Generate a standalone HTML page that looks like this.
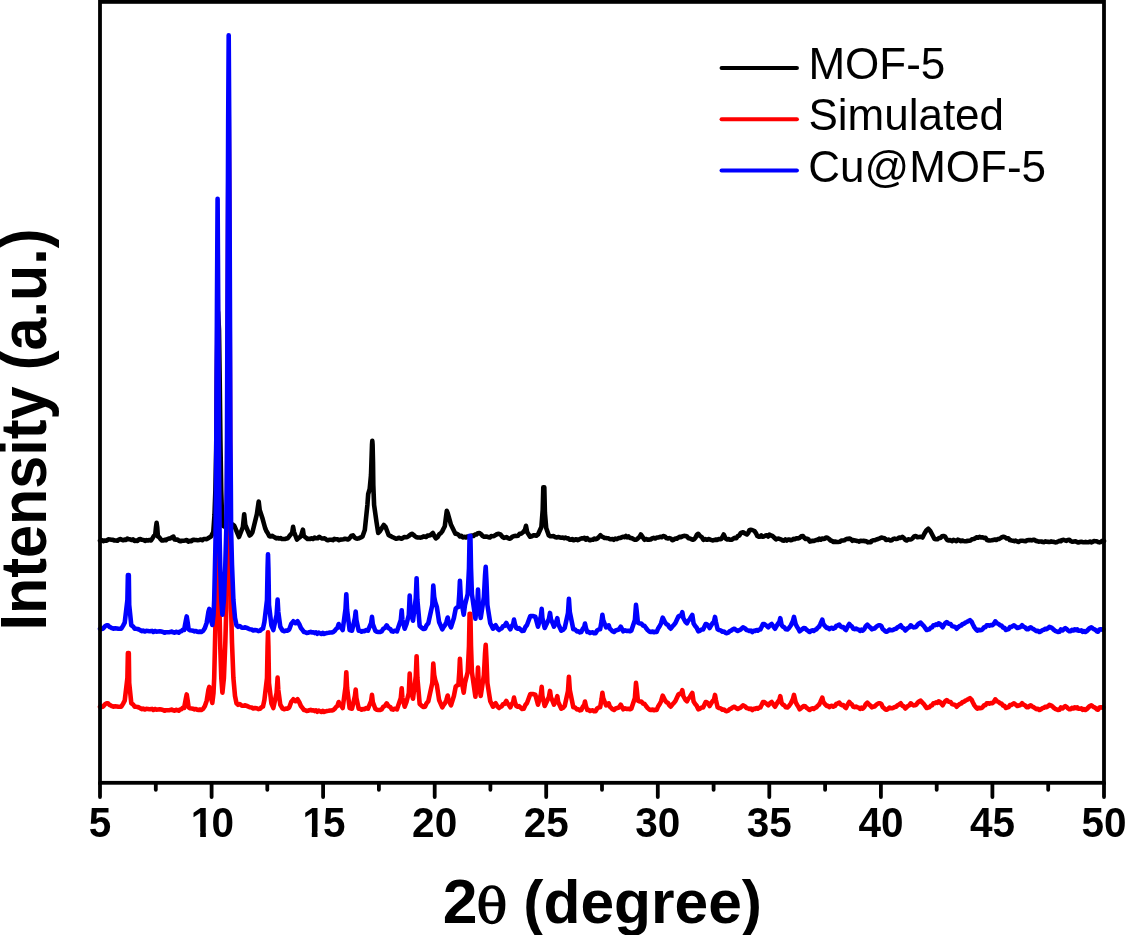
<!DOCTYPE html>
<html><head><meta charset="utf-8"><title>XRD</title>
<style>html,body{margin:0;padding:0;background:#fff;}svg{display:block;}</style>
</head><body>
<svg width="1125" height="935" viewBox="0 0 1125 935">
<rect width="1125" height="935" fill="#fff"/>
<g fill="none" stroke-width="4.6" stroke-linejoin="round" stroke-linecap="round">
<polyline stroke="#000000" points="100.0,540.8 101.7,540.0 103.3,541.2 105.0,540.5 106.7,540.6 108.3,539.4 110.0,539.5 111.5,539.7 113.0,539.9 114.5,540.5 116.0,540.5 117.5,540.8 119.0,539.4 120.5,539.1 122.0,539.8 123.3,540.3 124.7,539.5 126.0,540.0 127.3,538.6 128.7,539.3 130.0,539.3 131.5,540.0 133.0,539.4 134.5,541.0 136.0,540.5 137.5,541.0 139.0,539.3 140.5,539.1 142.0,539.8 143.5,540.0 145.0,540.9 146.5,540.1 148.0,540.5 149.5,540.0 151.0,540.5 152.4,538.5 153.8,536.0 155.2,535.0 156.0,527.0 156.6,522.9 157.2,527.0 157.9,536.5 159.3,537.3 160.6,539.1 162.0,540.5 163.3,540.4 164.7,539.8 166.0,540.2 167.3,539.1 168.7,538.6 170.0,538.5 171.7,537.5 173.4,536.6 174.6,539.5 176.1,539.6 177.5,539.5 179.0,540.8 180.5,541.3 182.0,540.8 183.5,540.8 185.0,540.5 186.7,540.0 188.3,541.6 190.0,540.8 191.5,541.2 193.0,539.7 194.5,539.9 196.0,540.0 197.7,540.2 199.3,540.0 201.0,539.5 202.3,540.1 203.7,539.0 205.0,539.0 206.8,539.1 208.5,538.0 211.0,536.5 213.3,532.0 214.5,515.0 215.4,490.0 216.2,450.0 216.8,390.0 217.4,335.0 218.0,312.0 219.0,330.0 219.7,380.0 220.4,440.0 221.2,490.0 222.0,515.0 222.8,525.5 224.4,526.6 226.0,527.0 227.3,526.6 228.7,527.2 230.0,527.0 232.5,524.5 234.2,525.7 236.5,531.0 239.0,537.0 242.9,527.0 244.2,514.3 245.3,525.0 249.7,535.5 251.1,534.4 252.5,532.0 256.9,514.0 258.7,501.5 259.7,510.0 262.6,518.8 265.1,528.0 266.5,531.3 267.8,533.3 269.2,536.0 270.6,536.5 272.1,535.9 273.6,536.7 275.0,537.5 276.3,538.4 277.7,538.0 279.0,538.5 280.5,538.1 281.9,538.9 283.4,539.0 284.9,539.0 286.5,538.6 288.0,538.0 289.4,536.1 290.7,534.6 292.1,533.0 293.1,526.8 294.0,532.0 296.9,539.5 298.3,538.2 299.8,537.3 301.2,535.5 302.9,529.6 303.8,536.0 305.7,537.5 307.5,539.0 308.9,538.8 310.2,539.0 311.6,538.2 313.0,539.0 314.6,537.6 316.1,538.3 317.7,538.2 319.3,536.8 320.6,537.8 322.0,538.5 323.3,538.5 324.6,538.3 325.9,539.2 327.2,540.2 328.5,540.1 329.8,539.8 331.4,539.7 332.9,540.1 334.4,538.9 336.0,539.2 337.5,539.3 339.0,540.2 340.5,539.6 342.0,539.5 343.5,539.2 345.0,538.7 346.4,539.0 347.9,539.5 349.4,538.5 351.2,536.0 353.0,535.3 354.5,537.4 356.0,538.5 357.6,538.6 359.2,538.2 360.9,537.4 362.5,536.5 364.8,530.0 367.4,505.0 368.2,494.0 369.7,489.0 371.0,475.0 371.5,460.0 372.0,445.0 372.3,440.8 372.6,445.0 373.0,462.0 373.3,485.0 374.1,505.0 376.5,522.0 378.2,533.0 380.0,531.1 381.9,528.0 383.8,524.9 385.6,527.0 388.6,535.0 390.2,535.9 391.9,536.8 393.5,537.5 396.0,538.8 397.3,538.5 398.7,537.7 400.0,538.3 401.5,538.7 403.0,537.9 404.4,537.0 405.9,537.3 407.4,537.0 408.9,535.9 410.5,534.6 412.0,533.8 413.3,534.6 414.7,536.0 416.0,537.0 417.7,537.5 419.4,537.5 420.7,537.6 422.0,537.2 423.4,536.4 424.7,536.6 426.0,537.0 427.4,535.6 428.8,535.6 430.1,535.2 431.5,534.3 432.9,533.0 434.4,536.2 435.9,538.3 437.6,537.1 439.2,534.3 440.9,533.0 442.2,531.4 443.5,528.8 444.8,526.3 446.1,516.0 446.8,510.8 447.7,513.0 449.1,518.0 451.0,524.8 455.4,533.8 456.9,533.9 458.5,534.7 460.0,536.5 461.4,535.9 462.9,537.5 464.4,536.8 465.8,537.5 467.3,536.5 468.8,537.1 470.4,536.3 471.9,535.5 473.4,536.0 474.9,534.6 476.4,534.5 477.8,533.2 479.3,533.0 481.0,534.1 482.6,536.0 484.0,536.7 485.5,536.5 486.9,536.6 488.4,537.2 489.8,537.5 491.2,536.1 492.6,536.3 494.0,536.0 495.6,535.1 497.2,534.0 498.8,533.8 500.7,534.7 502.6,537.0 504.0,537.9 505.3,537.5 506.6,537.1 508.0,538.1 509.4,538.7 510.7,538.3 512.1,536.9 513.5,536.3 515.0,535.9 516.4,536.0 518.0,535.7 519.5,533.9 521.1,533.8 523.0,532.3 524.9,530.0 526.0,525.8 527.1,532.0 528.7,534.7 530.2,536.8 531.7,536.4 533.2,535.3 534.7,535.3 536.4,535.8 538.0,534.5 541.4,527.0 542.7,510.0 543.3,487.3 543.8,487.3 544.3,487.3 544.9,512.8 546.2,528.0 548.7,535.3 550.3,536.3 551.9,536.2 553.4,536.1 555.0,537.0 556.7,537.4 558.3,537.1 560.0,537.5 561.4,537.8 562.8,537.6 564.2,538.3 565.6,537.5 567.0,538.5 568.3,538.4 569.6,539.8 571.0,539.8 572.3,539.0 573.6,540.2 574.9,539.8 576.2,539.2 577.6,540.2 579.0,539.6 580.3,538.8 581.6,538.3 583.0,538.5 584.4,537.8 585.8,539.6 587.2,538.2 588.7,539.8 590.1,540.3 591.5,539.7 592.9,539.8 594.3,538.6 595.6,539.3 597.0,538.9 598.4,537.5 600.4,535.3 601.8,536.6 603.2,537.1 604.6,538.0 605.9,538.0 607.2,538.2 608.5,538.2 609.9,539.3 611.2,539.2 612.5,539.0 613.8,539.8 615.3,538.6 616.9,539.2 618.5,538.1 620.0,538.0 621.5,537.5 622.9,536.7 624.3,537.2 625.8,536.0 627.2,537.4 628.6,536.5 630.0,538.0 631.6,538.1 633.2,538.9 634.8,539.8 636.3,539.7 637.9,538.4 639.4,537.0 640.8,534.5 642.6,536.9 644.5,539.8 646.0,539.0 647.5,539.6 649.0,539.6 650.5,539.5 652.0,538.5 653.7,537.9 655.3,538.5 657.0,537.5 658.5,537.5 660.1,536.7 661.7,537.2 663.2,536.0 664.8,536.4 666.4,538.1 668.0,538.5 669.4,538.1 670.9,538.6 672.3,540.2 673.7,539.8 675.2,538.5 676.7,538.8 678.2,537.7 679.7,536.8 681.2,537.2 682.6,536.2 684.0,535.9 685.5,536.0 687.0,536.5 688.5,538.3 690.0,538.5 691.5,539.3 693.0,539.8 694.3,539.1 695.6,537.5 696.9,534.6 698.2,533.8 699.9,535.9 701.7,537.1 703.4,539.8 705.2,539.0 707.0,539.8 709.0,539.0 710.9,539.8 712.6,540.4 714.3,540.1 716.0,539.5 717.3,540.0 718.6,539.0 720.0,539.3 721.3,539.0 723.7,534.5 725.6,538.5 727.2,539.4 728.8,539.1 730.4,539.8 731.9,539.6 733.3,538.6 734.8,537.9 736.3,538.3 737.8,536.1 739.3,535.5 740.8,533.0 743.1,532.3 745.0,533.5 746.9,534.5 748.2,533.0 749.5,530.0 750.8,529.9 752.1,530.0 754.5,531.0 755.9,533.1 757.3,536.0 758.6,536.6 760.0,536.8 761.3,535.4 762.7,536.7 764.0,536.5 765.4,535.5 766.7,535.3 768.1,536.5 769.4,534.7 770.8,535.3 772.7,536.2 774.6,538.0 776.0,539.3 777.3,538.7 778.7,538.6 780.1,539.1 781.4,539.6 782.8,540.5 784.1,540.7 785.4,539.4 786.8,540.6 788.1,539.5 789.4,539.5 790.7,540.3 792.0,540.1 793.4,538.9 794.7,539.2 796.3,538.4 797.8,538.4 799.4,538.0 801.2,536.3 803.0,536.0 804.3,537.8 805.6,539.0 807.0,538.7 808.4,539.3 809.8,541.6 811.2,541.3 812.6,540.7 813.9,541.0 815.3,540.4 816.6,539.9 818.0,540.0 819.3,538.7 820.7,539.7 822.0,538.5 823.3,539.0 824.7,538.7 826.0,537.5 827.5,537.8 829.1,539.0 830.6,540.5 832.1,541.0 833.6,542.0 835.0,541.5 836.5,542.0 838.0,542.0 839.7,541.8 841.3,540.6 843.0,540.5 844.4,540.2 845.7,539.4 847.0,538.9 848.4,539.0 849.7,538.5 851.0,539.2 852.4,540.8 853.7,540.1 855.0,540.5 856.4,540.9 857.8,541.0 859.2,541.6 860.6,540.7 862.0,541.0 863.5,540.9 865.0,541.1 866.4,541.3 867.9,542.4 869.4,542.0 870.8,542.2 872.2,540.6 873.6,540.2 875.0,540.1 876.4,539.5 878.1,539.0 879.7,538.3 881.4,537.5 882.9,537.9 884.5,538.3 886.0,540.0 887.5,539.7 888.9,539.6 890.4,540.5 891.8,540.2 893.2,539.0 894.6,538.6 896.0,539.0 897.6,538.7 899.1,537.5 900.7,537.9 902.3,536.8 903.8,538.0 905.3,539.9 906.8,540.5 908.2,539.4 909.6,539.5 911.0,539.5 912.4,538.5 914.1,536.5 915.8,536.0 917.4,537.3 919.0,537.0 920.8,536.7 922.5,537.5 924.5,533.5 926.3,530.5 928.3,528.7 930.3,531.0 932.4,535.0 934.5,539.0 936.0,539.2 937.5,539.2 939.0,538.0 940.5,537.9 942.0,536.3 943.5,536.0 944.8,536.4 946.1,538.3 947.4,540.1 948.7,540.5 950.3,540.1 951.9,541.2 953.4,539.9 955.0,540.5 956.4,541.2 957.8,539.7 959.2,540.2 960.6,541.2 962.0,540.5 963.4,541.0 964.8,541.2 966.2,541.1 967.7,540.9 969.1,540.8 970.5,540.5 972.0,539.3 973.5,539.0 975.0,538.5 976.5,537.3 978.0,537.8 979.5,536.8 981.0,537.5 982.5,537.2 984.0,538.0 985.5,537.8 987.0,540.1 988.5,540.4 990.0,540.5 991.7,540.3 993.3,539.9 995.0,539.5 996.3,540.0 997.7,539.1 999.0,539.0 1000.5,538.1 1001.9,537.2 1003.4,536.8 1005.0,537.2 1006.6,538.5 1008.3,538.3 1009.9,540.1 1011.6,540.5 1013.0,540.7 1014.3,541.2 1015.7,540.6 1017.0,541.4 1018.4,542.0 1019.8,541.1 1021.2,540.8 1022.6,540.8 1024.0,541.0 1025.6,541.3 1027.2,540.3 1028.8,540.1 1030.4,540.0 1031.8,540.4 1033.1,539.9 1034.5,539.8 1035.9,540.9 1037.3,541.1 1038.6,541.6 1040.0,541.5 1041.4,541.5 1042.8,542.0 1044.2,542.1 1045.6,541.3 1047.0,541.8 1048.4,541.9 1049.8,542.0 1051.2,541.4 1052.5,541.7 1053.9,541.9 1055.3,542.4 1056.6,542.3 1058.0,541.5 1059.4,540.9 1060.8,541.3 1062.2,540.0 1063.6,539.9 1065.0,540.4 1066.4,540.9 1067.8,540.0 1069.3,539.8 1070.9,541.2 1072.5,541.8 1074.0,541.5 1075.5,541.3 1076.9,542.1 1078.3,542.5 1079.8,542.0 1081.3,541.7 1082.7,542.2 1084.2,542.2 1085.6,541.9 1087.1,542.3 1088.5,542.3 1090.0,541.5 1091.3,542.4 1092.7,541.8 1094.0,541.1 1095.3,541.3 1096.7,541.3 1098.0,542.0 1099.4,542.4 1100.7,542.0 1102.3,540.7 1104.0,541.0"/>
<polyline stroke="#ff0000" points="100.0,706.7 101.3,707.1 102.7,706.7 104.0,705.5 105.3,704.0 106.7,703.3 108.0,703.3 109.3,704.8 110.7,705.4 112.0,706.2 113.3,706.7 115.2,706.3 117.0,706.5 118.4,706.8 119.9,706.8 121.3,706.7 123.0,703.8 124.7,700.7 127.4,678.0 127.9,653.1 128.3,653.1 128.8,653.1 129.2,683.0 131.3,703.3 133.0,704.4 134.7,706.7 136.1,706.8 137.6,707.0 139.0,707.5 140.3,708.2 141.7,709.1 143.0,708.5 144.7,709.5 146.3,708.9 148.0,709.0 149.3,709.2 150.7,709.1 152.0,708.9 153.3,710.0 154.9,709.0 156.4,709.6 158.0,709.5 159.7,709.3 161.3,709.6 163.0,710.0 164.5,710.8 166.0,710.2 167.5,710.3 169.0,710.3 170.4,709.9 171.8,709.6 173.3,710.3 174.7,710.7 176.0,709.7 177.3,710.1 178.7,710.7 180.0,709.5 181.4,709.3 182.7,707.9 184.1,708.0 185.8,699.0 186.7,694.4 187.6,700.0 188.6,707.3 190.1,708.3 191.6,708.5 193.0,708.7 194.5,709.4 196.0,709.0 197.3,709.7 198.7,710.0 200.0,709.5 201.3,710.0 203.1,708.9 204.9,706.0 206.7,700.7 208.4,690.0 209.3,686.9 210.1,695.0 212.3,703.0 213.5,693.0 214.2,678.0 214.9,648.0 215.6,616.0 216.1,558.0 216.5,478.0 217.0,378.0 217.6,276.8 218.2,378.0 218.7,478.0 219.1,558.0 219.6,616.0 220.3,648.0 221.3,678.0 222.4,692.7 223.9,678.0 225.3,643.0 226.3,608.0 226.7,563.0 227.0,518.0 227.5,378.0 228.2,198.0 228.7,113.3 229.2,198.0 229.9,378.0 230.4,518.0 230.8,563.0 231.1,608.0 232.0,643.0 233.4,678.0 235.0,696.0 236.5,703.3 238.1,704.8 239.7,704.0 241.3,705.3 242.6,705.8 244.0,705.7 245.3,705.3 246.9,705.9 248.4,706.7 250.0,707.3 251.7,707.5 253.3,708.5 255.0,708.0 256.7,708.2 258.3,709.1 260.0,708.7 261.5,707.3 263.0,706.5 264.4,700.0 267.0,678.0 267.6,646.0 268.0,632.2 268.4,646.0 269.0,683.0 271.4,703.3 273.3,708.0 276.6,693.0 277.6,677.6 278.3,690.0 280.3,704.7 282.7,708.7 284.4,709.3 286.0,708.5 287.6,708.6 289.3,707.3 291.2,702.0 293.3,699.3 295.5,701.2 297.6,699.3 299.4,702.5 300.9,706.0 302.4,707.9 304.0,710.0 305.3,710.2 306.7,710.9 308.0,710.7 309.3,710.3 310.7,709.9 312.0,710.5 313.3,710.3 314.7,711.1 316.0,710.3 317.3,711.8 318.7,710.7 320.0,711.3 321.4,712.0 322.8,710.8 324.2,711.9 325.6,711.4 327.0,711.0 328.6,710.8 330.1,710.5 331.7,710.5 333.3,710.0 334.7,708.8 336.0,707.0 337.4,706.0 338.7,702.0 339.5,704.0 341.1,705.5 342.7,708.0 345.5,687.0 346.3,672.2 347.1,688.0 349.6,708.0 352.0,708.7 354.9,696.0 355.7,689.6 356.4,698.0 358.7,708.7 360.1,708.8 361.6,709.7 363.0,709.0 364.7,709.1 366.3,708.0 368.0,708.7 371.1,701.0 372.0,694.9 372.8,702.0 375.3,708.7 376.9,709.7 378.4,710.0 380.0,710.0 381.6,709.4 383.3,706.8 384.9,706.0 386.7,703.3 387.5,704.5 388.9,706.5 390.3,706.9 391.7,709.3 393.0,709.6 394.4,708.9 395.7,708.8 397.0,709.3 400.8,698.0 401.7,688.2 402.4,698.0 404.7,706.7 406.5,702.0 408.8,693.0 409.7,673.6 410.5,689.0 413.0,698.7 415.8,676.0 416.6,656.2 417.4,678.0 419.7,704.0 422.0,706.0 423.5,707.0 425.0,706.7 426.6,703.3 428.3,701.3 432.3,683.0 433.3,663.6 434.2,675.0 435.2,680.0 436.9,685.3 439.1,700.0 442.3,707.3 443.7,704.9 445.0,703.1 446.4,700.0 447.7,695.5 448.5,700.0 451.0,705.3 453.9,696.0 455.7,686.7 457.0,685.4 458.4,685.0 459.3,672.0 459.9,658.9 460.8,676.0 463.7,692.7 465.0,683.0 467.7,672.0 469.0,646.0 469.6,613.9 470.0,613.9 470.4,613.9 471.0,646.0 471.9,672.0 475.4,696.7 477.5,678.0 478.0,667.6 478.6,681.0 480.7,696.0 483.9,675.0 485.0,654.0 485.7,644.9 486.4,658.0 487.4,683.0 490.3,701.3 493.0,706.7 494.4,704.5 495.7,703.3 497.4,706.3 499.0,708.0 500.4,706.9 501.7,706.4 503.0,704.2 504.4,704.0 506.3,700.9 507.2,703.0 508.8,704.9 510.3,707.3 511.7,704.1 513.2,702.0 514.0,697.6 514.9,702.0 516.3,706.0 517.7,706.8 519.1,706.2 520.5,707.5 522.1,708.9 523.7,708.7 525.4,705.0 527.0,703.0 530.3,694.0 532.7,694.0 535.3,694.7 538.0,704.7 540.9,694.0 541.7,686.9 542.4,696.0 544.7,706.0 548.9,697.0 550.0,690.9 550.9,697.0 554.0,704.7 556.5,699.0 557.3,696.2 558.2,702.0 561.3,708.7 563.0,707.8 564.7,706.0 568.0,691.0 568.9,676.9 569.8,690.0 573.3,707.3 575.1,707.5 577.0,709.5 578.4,709.2 579.9,710.4 581.3,710.0 582.7,706.9 584.2,705.0 585.0,701.6 585.9,706.0 587.3,710.0 588.6,709.7 590.0,710.9 591.3,710.6 592.7,710.2 594.0,711.3 595.5,711.2 597.0,708.7 598.6,707.5 600.1,707.3 601.6,699.0 602.4,692.9 603.2,698.0 606.0,705.3 607.4,704.0 608.7,703.3 609.7,706.5 611.2,707.9 612.6,709.3 614.0,710.0 615.6,708.5 617.3,708.0 618.9,707.5 620.7,704.7 623.3,709.3 625.1,708.3 627.0,709.0 628.4,708.8 629.9,709.3 631.3,708.7 634.9,698.0 636.0,682.9 636.8,690.0 637.9,700.7 639.6,701.5 641.3,701.5 643.0,703.5 644.6,704.0 646.0,706.0 647.3,707.7 648.6,708.9 650.0,710.0 651.3,710.0 652.7,709.5 654.0,710.3 655.4,709.7 656.7,710.0 658.1,706.5 659.6,704.2 661.0,701.5 662.7,695.6 664.9,700.0 666.4,702.3 667.8,702.7 669.2,705.2 670.7,706.7 672.3,704.6 673.8,702.9 675.4,701.0 678.4,694.5 679.8,693.6 681.1,694.0 682.3,690.2 683.3,696.0 685.2,699.5 687.0,701.3 688.3,698.8 689.7,697.3 691.0,695.0 692.3,692.9 693.6,701.5 695.2,704.0 696.7,705.8 698.3,709.3 699.9,708.8 701.5,707.5 703.1,707.5 705.7,702.0 707.0,702.5 708.4,703.8 709.7,706.0 711.1,703.4 712.5,701.3 713.9,700.0 715.0,694.9 715.9,700.0 717.6,707.3 719.2,708.1 720.8,708.4 722.4,709.8 724.0,709.5 725.4,710.7 726.9,711.2 728.3,710.7 729.8,709.2 731.3,708.6 732.8,707.3 734.3,706.7 736.0,708.0 737.7,709.0 739.0,708.3 740.4,707.7 741.7,706.6 743.0,705.3 744.8,706.2 746.6,708.0 748.0,708.4 749.5,709.0 750.9,708.6 752.3,710.0 753.6,708.7 755.0,709.0 756.3,708.1 757.7,708.7 759.0,707.5 760.4,707.5 763.0,702.0 764.3,702.1 765.6,703.1 767.0,704.0 768.3,705.3 770.0,703.1 771.7,702.0 773.4,704.4 775.0,706.7 776.4,704.4 777.8,701.9 779.3,700.0 780.3,696.2 781.6,703.0 783.0,704.7 784.3,705.3 785.7,707.3 787.4,707.4 789.0,706.0 790.9,703.3 792.9,699.0 794.0,694.9 795.6,702.0 797.0,704.8 798.3,706.7 799.7,709.3 801.0,708.2 802.4,707.2 803.7,706.0 805.2,706.2 806.7,707.9 808.2,709.0 809.7,710.0 811.0,708.9 812.4,708.3 813.7,709.0 815.1,707.8 816.4,707.5 817.7,705.7 819.1,704.6 820.4,702.0 822.3,697.6 823.3,702.0 825.0,704.2 826.7,706.0 828.0,705.8 829.3,707.2 830.7,706.2 832.0,705.7 833.3,706.7 834.8,706.0 836.3,704.0 837.8,703.4 839.3,702.7 840.6,704.4 842.0,705.1 843.3,705.0 844.7,706.9 846.0,708.0 847.6,704.8 849.3,702.0 850.6,703.5 852.0,704.6 853.3,706.7 854.6,707.1 856.0,706.5 857.3,707.2 858.7,707.6 860.0,708.9 861.4,707.7 862.7,708.7 864.2,707.2 865.8,704.1 867.3,702.7 868.9,704.4 870.4,705.6 872.0,707.3 873.3,706.6 874.7,706.4 876.0,705.1 877.3,704.0 878.7,703.3 880.0,703.3 881.3,704.0 882.6,706.9 884.0,708.1 885.3,709.3 886.6,709.8 888.0,709.0 889.4,707.5 890.7,708.3 892.0,708.2 893.4,707.8 894.8,707.0 896.1,706.7 897.6,705.3 899.2,704.4 900.7,703.3 902.2,705.6 903.8,706.4 905.3,708.5 906.6,707.2 908.0,705.9 909.4,705.4 910.7,703.3 912.0,704.5 913.4,705.4 914.7,705.3 916.2,704.8 917.7,702.6 919.2,701.4 920.7,700.7 922.2,702.5 923.7,703.9 925.2,706.0 926.7,708.0 928.0,707.5 929.4,707.2 930.7,705.8 932.0,705.4 933.4,703.4 934.7,703.3 936.0,702.4 937.4,702.9 938.7,701.3 940.0,702.0 941.4,703.8 942.7,705.3 944.0,702.8 945.4,701.0 946.7,700.0 948.7,701.7 950.6,702.0 952.1,704.1 953.7,704.6 955.2,704.9 956.7,706.7 958.2,705.2 959.7,703.9 961.2,703.5 962.7,702.0 964.0,701.7 965.4,700.6 966.7,700.0 968.4,699.1 970.0,698.2 971.5,699.6 972.9,702.5 974.4,705.3 975.8,707.1 977.3,708.7 978.6,707.7 980.0,708.3 981.3,708.0 982.6,707.2 984.0,705.2 985.4,705.2 986.7,703.3 988.1,703.2 989.4,703.7 990.8,703.1 992.1,703.3 993.7,702.2 995.3,699.3 997.0,701.2 998.6,702.0 1000.1,703.3 1001.6,703.8 1003.0,705.5 1004.5,706.0 1006.0,708.0 1007.3,707.4 1008.7,707.1 1010.0,705.1 1011.3,704.9 1012.7,704.1 1014.0,703.3 1015.6,704.5 1017.3,706.0 1018.9,705.5 1020.4,705.0 1022.0,703.3 1023.5,704.7 1025.0,705.3 1026.5,707.1 1028.0,707.3 1029.3,706.0 1030.7,705.3 1032.1,706.5 1033.6,707.2 1035.0,708.1 1036.4,709.1 1037.9,708.7 1039.3,710.0 1040.8,709.4 1042.3,708.2 1043.9,707.8 1045.4,706.7 1046.7,707.2 1048.1,706.2 1049.4,704.8 1050.7,705.3 1052.2,706.2 1053.6,707.6 1055.1,708.8 1056.5,709.3 1058.0,710.0 1059.5,709.8 1060.9,707.5 1062.4,708.4 1063.8,707.2 1065.3,706.0 1066.7,707.0 1068.0,708.4 1069.3,709.2 1070.7,709.3 1072.0,707.9 1073.4,708.5 1074.7,707.3 1076.0,708.1 1077.3,707.4 1078.7,708.8 1080.0,708.8 1081.3,708.4 1082.7,709.9 1084.0,709.0 1085.3,710.0 1086.8,709.0 1088.3,707.5 1089.8,706.0 1091.3,705.3 1092.7,706.4 1094.0,707.2 1095.3,707.8 1096.7,709.3 1098.0,709.7 1099.3,707.7 1100.7,707.2 1102.0,707.7 1103.3,707.3"/>
<polyline stroke="#0000ff" points="100.0,628.7 101.3,629.1 102.7,628.7 104.0,627.5 105.3,626.0 106.7,625.3 108.0,625.3 109.3,626.8 110.7,627.4 112.0,628.2 113.3,628.7 115.2,628.3 117.0,628.5 118.4,628.8 119.9,628.8 121.3,628.7 123.0,625.8 124.7,622.7 127.4,600.0 127.9,575.1 128.3,575.1 128.8,575.1 129.2,605.0 131.3,625.3 133.0,626.4 134.7,628.7 136.1,628.8 137.6,629.0 139.0,629.5 140.3,630.2 141.7,631.1 143.0,630.5 144.7,631.5 146.3,630.9 148.0,631.0 149.3,631.2 150.7,631.1 152.0,630.9 153.3,632.0 154.9,631.0 156.4,631.6 158.0,631.5 159.7,631.3 161.3,631.6 163.0,632.0 164.5,632.8 166.0,632.2 167.5,632.3 169.0,632.3 170.4,631.9 171.8,631.6 173.3,632.3 174.7,632.7 176.0,631.7 177.3,632.1 178.7,632.7 180.0,631.5 181.4,631.3 182.7,629.9 184.1,630.0 185.8,621.0 186.7,616.4 187.6,622.0 188.6,629.3 190.1,630.3 191.6,630.5 193.0,630.7 194.5,631.4 196.0,631.0 197.3,631.7 198.7,632.0 200.0,631.5 201.3,632.0 203.1,630.9 204.9,628.0 206.7,622.7 208.4,612.0 209.3,608.9 210.1,617.0 212.3,625.0 213.5,615.0 214.2,600.0 214.9,570.0 215.6,538.0 216.1,480.0 216.5,400.0 217.0,300.0 217.6,198.8 218.2,300.0 218.7,400.0 219.1,480.0 219.6,538.0 220.3,570.0 221.3,600.0 222.4,614.7 223.9,600.0 225.3,565.0 226.3,530.0 226.7,485.0 227.0,440.0 227.5,300.0 228.2,120.0 228.7,35.3 229.2,120.0 229.9,300.0 230.4,440.0 230.8,485.0 231.1,530.0 232.0,565.0 233.4,600.0 235.0,618.0 236.5,625.3 238.1,626.8 239.7,626.0 241.3,627.3 242.6,627.8 244.0,627.7 245.3,627.3 246.9,627.9 248.4,628.7 250.0,629.3 251.7,629.5 253.3,630.5 255.0,630.0 256.7,630.2 258.3,631.1 260.0,630.7 261.5,629.3 263.0,628.5 264.4,622.0 267.0,600.0 267.6,568.0 268.0,554.2 268.4,568.0 269.0,605.0 271.4,625.3 273.3,630.0 276.6,615.0 277.6,599.6 278.3,612.0 280.3,626.7 282.7,630.7 284.4,631.3 286.0,630.5 287.6,630.6 289.3,629.3 291.2,624.0 293.3,621.3 295.5,623.2 297.6,621.3 299.4,624.5 300.9,628.0 302.4,629.9 304.0,632.0 305.3,632.2 306.7,632.9 308.0,632.7 309.3,632.3 310.7,631.9 312.0,632.5 313.3,632.3 314.7,633.1 316.0,632.3 317.3,633.8 318.7,632.7 320.0,633.3 321.4,634.0 322.8,632.8 324.2,633.9 325.6,633.4 327.0,633.0 328.6,632.8 330.1,632.5 331.7,632.5 333.3,632.0 334.7,630.8 336.0,629.0 337.4,628.0 338.7,624.0 339.5,626.0 341.1,627.5 342.7,630.0 345.5,609.0 346.3,594.2 347.1,610.0 349.6,630.0 352.0,630.7 354.9,618.0 355.7,611.6 356.4,620.0 358.7,630.7 360.1,630.8 361.6,631.7 363.0,631.0 364.7,631.1 366.3,630.0 368.0,630.7 371.1,623.0 372.0,616.9 372.8,624.0 375.3,630.7 376.9,631.7 378.4,632.0 380.0,632.0 381.6,631.4 383.3,628.8 384.9,628.0 386.7,625.3 387.5,626.5 388.9,628.5 390.3,628.9 391.7,631.3 393.0,631.6 394.4,630.9 395.7,630.8 397.0,631.3 400.8,620.0 401.7,610.2 402.4,620.0 404.7,628.7 406.5,624.0 408.8,615.0 409.7,595.6 410.5,611.0 413.0,620.7 415.8,598.0 416.6,578.2 417.4,600.0 419.7,626.0 422.0,628.0 423.5,629.0 425.0,628.7 426.6,625.3 428.3,623.3 432.3,605.0 433.3,585.6 434.2,597.0 435.2,602.0 436.9,607.3 439.1,622.0 442.3,629.3 443.7,626.9 445.0,625.1 446.4,622.0 447.7,617.5 448.5,622.0 451.0,627.3 453.9,618.0 455.7,608.7 457.0,607.4 458.4,607.0 459.3,594.0 459.9,580.9 460.8,598.0 463.7,614.7 465.0,605.0 467.7,594.0 469.0,568.0 469.6,535.9 470.0,535.9 470.4,535.9 471.0,568.0 471.9,594.0 475.4,618.7 477.5,600.0 478.0,589.6 478.6,603.0 480.7,618.0 483.9,597.0 485.0,576.0 485.7,566.9 486.4,580.0 487.4,605.0 490.3,623.3 493.0,628.7 494.4,626.5 495.7,625.3 497.4,628.3 499.0,630.0 500.4,628.9 501.7,628.4 503.0,626.2 504.4,626.0 506.3,622.9 507.2,625.0 508.8,626.9 510.3,629.3 511.7,626.1 513.2,624.0 514.0,619.6 514.9,624.0 516.3,628.0 517.7,628.8 519.1,628.2 520.5,629.5 522.1,630.9 523.7,630.7 525.4,627.0 527.0,625.0 530.3,616.0 532.7,616.0 535.3,616.7 538.0,626.7 540.9,616.0 541.7,608.9 542.4,618.0 544.7,628.0 548.9,619.0 550.0,612.9 550.9,619.0 554.0,626.7 556.5,621.0 557.3,618.2 558.2,624.0 561.3,630.7 563.0,629.8 564.7,628.0 568.0,613.0 568.9,598.9 569.8,612.0 573.3,629.3 575.1,629.5 577.0,631.5 578.4,631.2 579.9,632.4 581.3,632.0 582.7,628.9 584.2,627.0 585.0,623.6 585.9,628.0 587.3,632.0 588.6,631.7 590.0,632.9 591.3,632.6 592.7,632.2 594.0,633.3 595.5,633.2 597.0,630.7 598.6,629.5 600.1,629.3 601.6,621.0 602.4,614.9 603.2,620.0 606.0,627.3 607.4,626.0 608.7,625.3 609.7,628.5 611.2,629.9 612.6,631.3 614.0,632.0 615.6,630.5 617.3,630.0 618.9,629.5 620.7,626.7 623.3,631.3 625.1,630.3 627.0,631.0 628.4,630.8 629.9,631.3 631.3,630.7 634.9,620.0 636.0,604.9 636.8,612.0 637.9,622.7 639.6,623.5 641.3,623.5 643.0,625.5 644.6,626.0 646.0,628.0 647.3,629.7 648.6,630.9 650.0,632.0 651.3,632.0 652.7,631.5 654.0,632.3 655.4,631.7 656.7,632.0 658.1,628.5 659.6,626.2 661.0,623.5 662.7,617.6 664.9,622.0 666.4,624.3 667.8,624.7 669.2,627.2 670.7,628.7 672.3,626.6 673.8,624.9 675.4,623.0 678.4,616.5 679.8,615.6 681.1,616.0 682.3,612.2 683.3,618.0 685.2,621.5 687.0,623.3 688.3,620.8 689.7,619.3 691.0,617.0 692.3,614.9 693.6,623.5 695.2,626.0 696.7,627.8 698.3,631.3 699.9,630.8 701.5,629.5 703.1,629.5 705.7,624.0 707.0,624.5 708.4,625.8 709.7,628.0 711.1,625.4 712.5,623.3 713.9,622.0 715.0,616.9 715.9,622.0 717.6,629.3 719.2,630.1 720.8,630.4 722.4,631.8 724.0,631.5 725.4,632.7 726.9,633.2 728.3,632.7 729.8,631.2 731.3,630.6 732.8,629.3 734.3,628.7 736.0,630.0 737.7,631.0 739.0,630.3 740.4,629.7 741.7,628.6 743.0,627.3 744.8,628.2 746.6,630.0 748.0,630.4 749.5,631.0 750.9,630.6 752.3,632.0 753.6,630.7 755.0,631.0 756.3,630.1 757.7,630.7 759.0,629.5 760.4,629.5 763.0,624.0 764.3,624.1 765.6,625.1 767.0,626.0 768.3,627.3 770.0,625.1 771.7,624.0 773.4,626.4 775.0,628.7 776.4,626.4 777.8,623.9 779.3,622.0 780.3,618.2 781.6,625.0 783.0,626.7 784.3,627.3 785.7,629.3 787.4,629.4 789.0,628.0 790.9,625.3 792.9,621.0 794.0,616.9 795.6,624.0 797.0,626.8 798.3,628.7 799.7,631.3 801.0,630.2 802.4,629.2 803.7,628.0 805.2,628.2 806.7,629.9 808.2,631.0 809.7,632.0 811.0,630.9 812.4,630.3 813.7,631.0 815.1,629.8 816.4,629.5 817.7,627.7 819.1,626.6 820.4,624.0 822.3,619.6 823.3,624.0 825.0,626.2 826.7,628.0 828.0,627.8 829.3,629.2 830.7,628.2 832.0,627.7 833.3,628.7 834.8,628.0 836.3,626.0 837.8,625.4 839.3,624.7 840.6,626.4 842.0,627.1 843.3,627.0 844.7,628.9 846.0,630.0 847.6,626.8 849.3,624.0 850.6,625.5 852.0,626.6 853.3,628.7 854.6,629.1 856.0,628.5 857.3,629.2 858.7,629.6 860.0,630.9 861.4,629.7 862.7,630.7 864.2,629.2 865.8,626.1 867.3,624.7 868.9,626.4 870.4,627.6 872.0,629.3 873.3,628.6 874.7,628.4 876.0,627.1 877.3,626.0 878.7,625.3 880.0,625.3 881.3,626.0 882.6,628.9 884.0,630.1 885.3,631.3 886.6,631.8 888.0,631.0 889.4,629.5 890.7,630.3 892.0,630.2 893.4,629.8 894.8,629.0 896.1,628.7 897.6,627.3 899.2,626.4 900.7,625.3 902.2,627.6 903.8,628.4 905.3,630.5 906.6,629.2 908.0,627.9 909.4,627.4 910.7,625.3 912.0,626.5 913.4,627.4 914.7,627.3 916.2,626.8 917.7,624.6 919.2,623.4 920.7,622.7 922.2,624.5 923.7,625.9 925.2,628.0 926.7,630.0 928.0,629.5 929.4,629.2 930.7,627.8 932.0,627.4 933.4,625.4 934.7,625.3 936.0,624.4 937.4,624.9 938.7,623.3 940.0,624.0 941.4,625.8 942.7,627.3 944.0,624.8 945.4,623.0 946.7,622.0 948.7,623.7 950.6,624.0 952.1,626.1 953.7,626.6 955.2,626.9 956.7,628.7 958.2,627.2 959.7,625.9 961.2,625.5 962.7,624.0 964.0,623.7 965.4,622.6 966.7,622.0 968.4,621.1 970.0,620.2 971.5,621.6 972.9,624.5 974.4,627.3 975.8,629.1 977.3,630.7 978.6,629.7 980.0,630.3 981.3,630.0 982.6,629.2 984.0,627.2 985.4,627.2 986.7,625.3 988.1,625.2 989.4,625.7 990.8,625.1 992.1,625.3 993.7,624.2 995.3,621.3 997.0,623.2 998.6,624.0 1000.1,625.3 1001.6,625.8 1003.0,627.5 1004.5,628.0 1006.0,630.0 1007.3,629.4 1008.7,629.1 1010.0,627.1 1011.3,626.9 1012.7,626.1 1014.0,625.3 1015.6,626.5 1017.3,628.0 1018.9,627.5 1020.4,627.0 1022.0,625.3 1023.5,626.7 1025.0,627.3 1026.5,629.1 1028.0,629.3 1029.3,628.0 1030.7,627.3 1032.1,628.5 1033.6,629.2 1035.0,630.1 1036.4,631.1 1037.9,630.7 1039.3,632.0 1040.8,631.4 1042.3,630.2 1043.9,629.8 1045.4,628.7 1046.7,629.2 1048.1,628.2 1049.4,626.8 1050.7,627.3 1052.2,628.2 1053.6,629.6 1055.1,630.8 1056.5,631.3 1058.0,632.0 1059.5,631.8 1060.9,629.5 1062.4,630.4 1063.8,629.2 1065.3,628.0 1066.7,629.0 1068.0,630.4 1069.3,631.2 1070.7,631.3 1072.0,629.9 1073.4,630.5 1074.7,629.3 1076.0,630.1 1077.3,629.4 1078.7,630.8 1080.0,630.8 1081.3,630.4 1082.7,631.9 1084.0,631.0 1085.3,632.0 1086.8,631.0 1088.3,629.5 1089.8,628.0 1091.3,627.3 1092.7,628.4 1094.0,629.2 1095.3,629.8 1096.7,631.3 1098.0,631.7 1099.3,629.7 1100.7,629.2 1102.0,629.7 1103.3,629.3"/>
</g>
<rect x="100.0" y="1.9" width="1004.0" height="780.9" fill="none" stroke="#000" stroke-width="3.8"/>
<g stroke="#000" stroke-width="3.8" stroke-linecap="round">
<line x1="100.0" y1="782.8" x2="100.0" y2="797.0"/><line x1="155.8" y1="782.8" x2="155.8" y2="789.8"/><line x1="211.6" y1="782.8" x2="211.6" y2="797.0"/><line x1="267.3" y1="782.8" x2="267.3" y2="789.8"/><line x1="323.1" y1="782.8" x2="323.1" y2="797.0"/><line x1="378.9" y1="782.8" x2="378.9" y2="789.8"/><line x1="434.7" y1="782.8" x2="434.7" y2="797.0"/><line x1="490.4" y1="782.8" x2="490.4" y2="789.8"/><line x1="546.2" y1="782.8" x2="546.2" y2="797.0"/><line x1="602.0" y1="782.8" x2="602.0" y2="789.8"/><line x1="657.8" y1="782.8" x2="657.8" y2="797.0"/><line x1="713.6" y1="782.8" x2="713.6" y2="789.8"/><line x1="769.3" y1="782.8" x2="769.3" y2="797.0"/><line x1="825.1" y1="782.8" x2="825.1" y2="789.8"/><line x1="880.9" y1="782.8" x2="880.9" y2="797.0"/><line x1="936.7" y1="782.8" x2="936.7" y2="789.8"/><line x1="992.4" y1="782.8" x2="992.4" y2="797.0"/><line x1="1048.2" y1="782.8" x2="1048.2" y2="789.8"/><line x1="1104.0" y1="782.8" x2="1104.0" y2="797.0"/>
</g>
<defs><clipPath id="c1_10"><rect x="185.8" y="797.1" width="32.5" height="34.7"/><rect x="200.2" y="797.1" width="5.7" height="45"/></clipPath><clipPath id="c1_15"><rect x="297.4" y="797.1" width="32.5" height="34.7"/><rect x="311.8" y="797.1" width="5.7" height="45"/></clipPath></defs>
<g font-family="'Liberation Sans', Arial, sans-serif" font-weight="bold" font-size="40.5" fill="#000" transform="translate(0,837.1) scale(1,1.035) translate(0,-837.1)">
<text x="88.7" y="837.1">5</text><text x="190.8" y="837.1" clip-path="url(#c1_10)">1</text><text x="211.6" y="837.1">0</text><text x="302.4" y="837.1" clip-path="url(#c1_15)">1</text><text x="323.1" y="837.1">5</text><text x="412.1" y="837.1">2</text><text x="434.7" y="837.1">0</text><text x="523.7" y="837.1">2</text><text x="546.2" y="837.1">5</text><text x="635.3" y="837.1">3</text><text x="657.8" y="837.1">0</text><text x="746.8" y="837.1">3</text><text x="769.3" y="837.1">5</text><text x="858.4" y="837.1">4</text><text x="880.9" y="837.1">0</text><text x="969.9" y="837.1">4</text><text x="992.4" y="837.1">5</text><text x="1081.5" y="837.1">5</text><text x="1104.0" y="837.1">0</text>
</g>
<g font-family="'Liberation Sans', Arial, sans-serif" font-weight="bold" font-size="60.5" fill="#000">
<text x="442.8" y="922.8" font-size="62.5">2</text>
<text x="523.3" y="922.8">(degree)</text>
</g>
<text transform="translate(476.8,922.7) scale(1.06,1)" font-family="'DejaVu Serif', serif" font-size="47.8" fill="#000" stroke="#000" stroke-width="1.35">&#952;</text>
<text transform="translate(45.6,630.4) rotate(-90) scale(1,1.09)" font-family="'Liberation Sans', Arial, sans-serif" font-weight="bold" font-size="59.3" fill="#000">Intensity (a.u.)</text>
<g stroke-width="4.1" stroke-linecap="round">
<line x1="721.6" y1="68" x2="796.9" y2="68" stroke="#000"/>
<line x1="721.6" y1="119.2" x2="796.9" y2="119.2" stroke="#ff0000"/>
<line x1="721.6" y1="170.5" x2="796.9" y2="170.5" stroke="#0000ff"/>
</g>
<g font-family="'Liberation Sans', Arial, sans-serif" font-size="44" fill="#000">
<text x="808.4" y="79">MOF-5</text>
<text x="808.4" y="130.2">Simulated</text>
<text x="808.3" y="181.6">Cu@MOF-5</text>
</g>
</svg>
</body></html>
